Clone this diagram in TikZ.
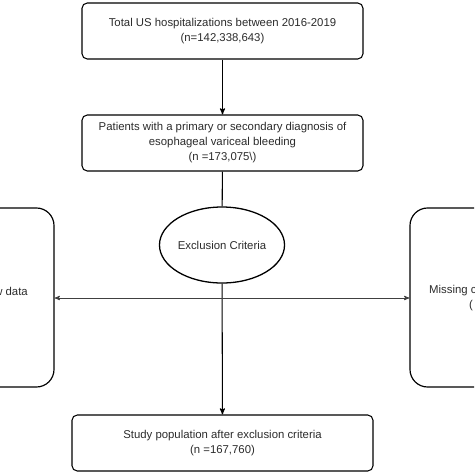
\documentclass[tikz,border=0pt]{standalone}
\usepackage{fontspec}
\setmainfont{Liberation Sans}
\usetikzlibrary{arrows,shapes.geometric}
\definecolor{txtgray}{HTML}{2B2B2B}
\tikzset{
  flowbox/.style={draw, rounded corners=4.5pt, line width=0.9pt, minimum width=8.43cm, minimum height=1.68cm, align=center, text=txtgray, font=\fontsize{9.7}{12.8}\selectfont, inner sep=0pt},
  sidebox/.style={draw, rounded corners=15pt, line width=1pt, minimum width=4.62cm, minimum height=5.37cm, inner sep=0pt},
  sidetext/.style={text=txtgray, font=\fontsize{9.7}{12.8}\selectfont, inner sep=0pt}
}
\begin{document}
\begin{tikzpicture}[x=0.03cm,y=-0.03cm,>=stealth']
\useasboundingbox (0,0) rectangle (474,474);
\clip (0,0) rectangle (474,474);
\node (total) at (222.5,31) [flowbox] {Total US hospitalizations between 2016-2019\\(n=142,338,643)};
\node (evb) at (222.5,143) [flowbox] {Patients with a primary or secondary diagnosis of\\esophageal variceal bleeding\\(n =173,075\textbackslash)};
\node (excl) at (222,245) [draw, ellipse, line width=1.1pt, minimum width=3.42cm, minimum height=2.28cm, inner sep=0pt, text=txtgray, font=\fontsize{9.7}{12.8}\selectfont] {Exclusion Criteria};
\node (study) at (222.5,443) [flowbox, minimum width=9.03cm] {Study population after exclusion criteria\\(n =167,760)};
\node (leftbox) at (-23,297.5) [sidebox] {};
\node (rightbox) at (487,297.5) [sidebox] {};
\node (lefttxt) at (28,291) [sidetext, anchor=east] {w data};
\node (righttxt) at (429,291) [sidetext, anchor=west] {Missing c};
\node (rightn) at (469,306) [sidetext, anchor=west] {(};
\coordinate (split) at (222,298);
\draw[->, line width=0.9pt] (total) -- (evb);
\draw[line width=0.9pt] (evb) -- (excl);
\draw[->, line width=0.9pt] (excl) -- (study);
\draw[->, line width=0.7pt, black!75] (split) -- (split -| leftbox.east);
\draw[->, line width=0.7pt, black!75] (split) -- (split -| rightbox.west);
\end{tikzpicture}
\end{document}
